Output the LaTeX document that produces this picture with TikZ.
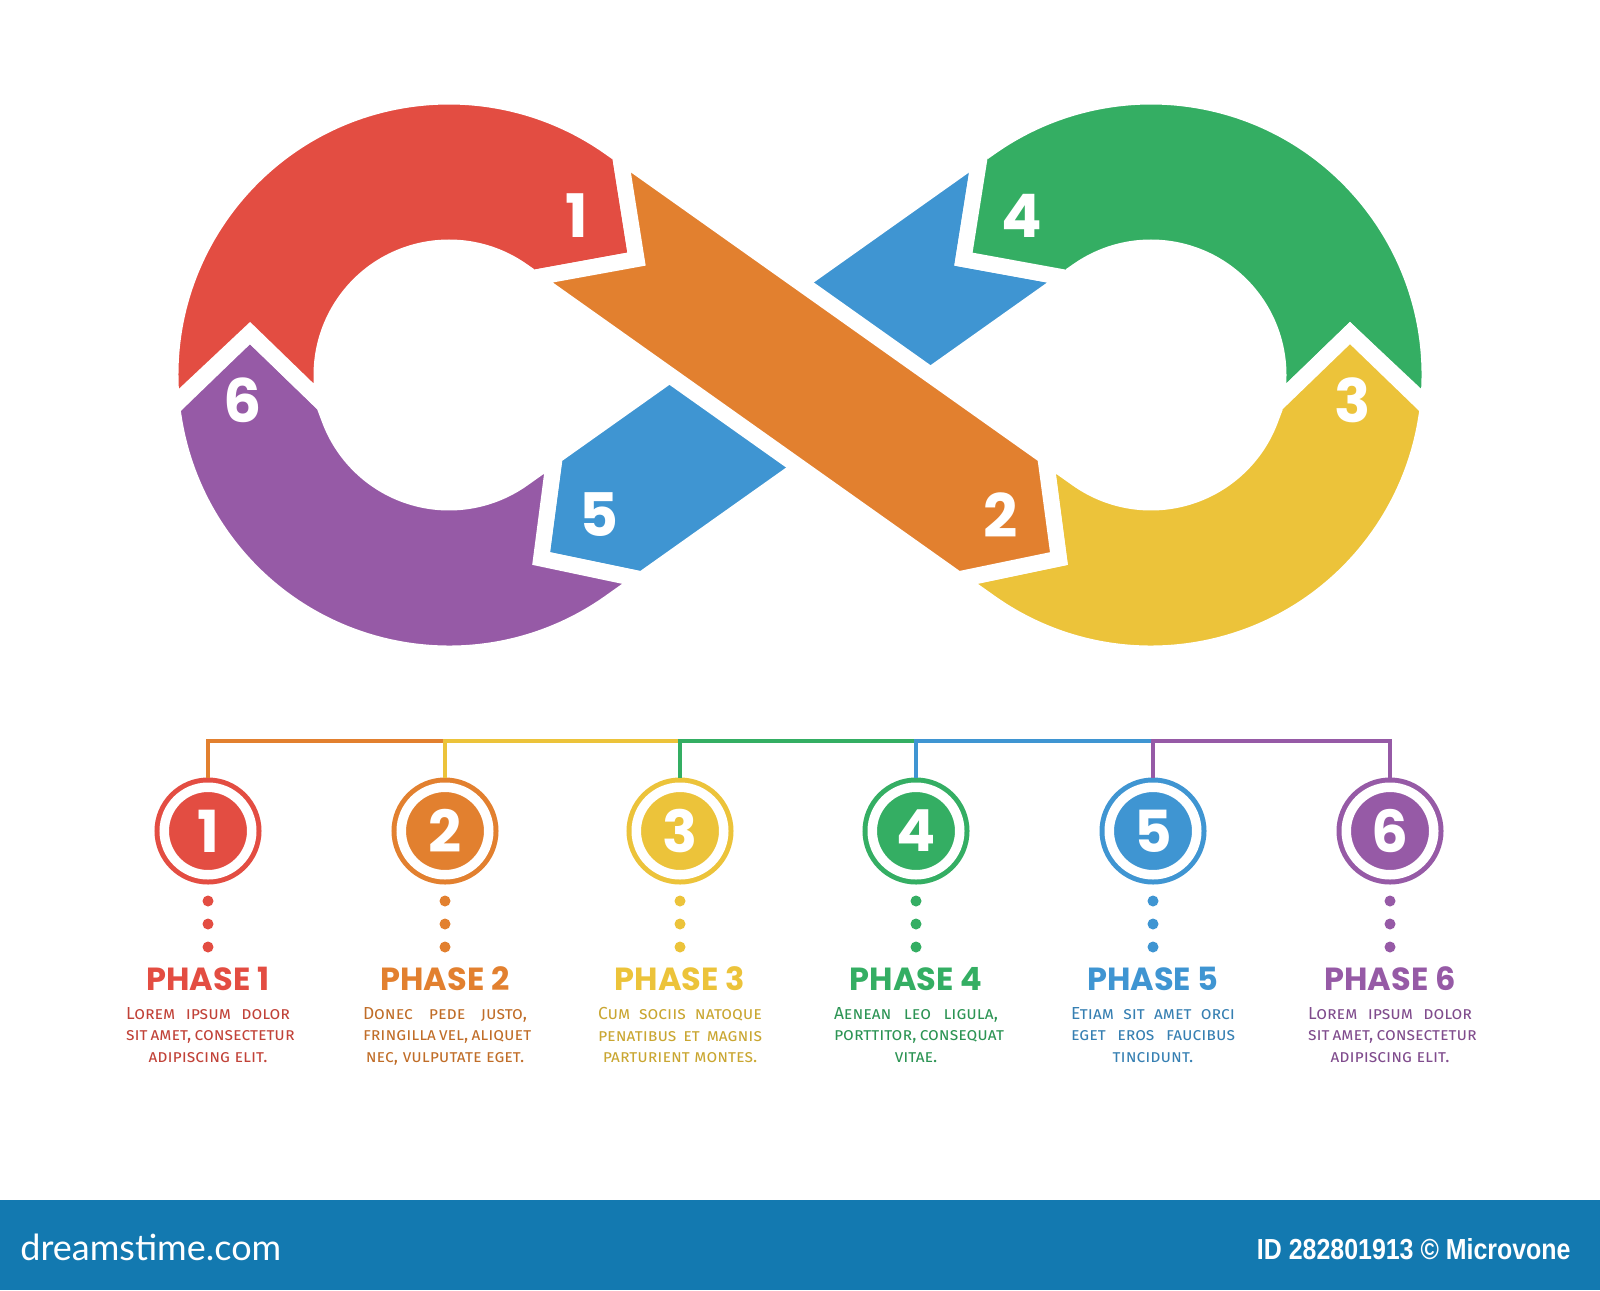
\documentclass[tikz,border=0pt]{standalone}
\usepackage{fontspec}
\setmainfont{Fira Sans}
\newfontfamily\headfont{Poppins}
\newfontfamily\idfont{Liberation Sans}
\newfontfamily\logofont{Lato}
\usetikzlibrary{calc}

\definecolor{ph1}{HTML}{E34D42}
\definecolor{ph2}{HTML}{E2802F}
\definecolor{ph3}{HTML}{ECC33A}
\definecolor{ph4}{HTML}{34AE63}
\definecolor{ph5}{HTML}{3F95D2}
\definecolor{ph6}{HTML}{965AA6}
\definecolor{bar}{HTML}{1379B0}

\begin{document}
\begin{tikzpicture}[x=0.5pt, y=-0.5pt,
    piece/.style={draw=white, line width=8pt},
    num/.style={text=white, font=\headfont\bfseries\fontsize{30}{30}\selectfont},
    ring/.style={circle, draw=#1, fill=#1, double=white, double distance=4.75pt,
        line width=2.5pt, minimum size=43.75pt, inner sep=0pt, outer sep=4.875pt,
        text=white, font=\headfont\bfseries\fontsize{29}{29}\selectfont},
    bus/.style={line width=2pt},
    phase/.style={anchor=base, font=\headfont\bfseries\fontsize{16}{16}\selectfont},
    desc/.style={anchor=north, align=center, inner sep=0pt,
        font=\fontsize{8.7}{10.75}\selectfont\scshape}]

\useasboundingbox (0,0) rectangle (1600,1290);

% loop centres and tangent points
\coordinate (CL) at (449,375);
\coordinate (CR) at (1151,375);
\coordinate (T1) at ($(CL)+(-54.67:203)$);
\coordinate (T2) at ($(CR)+(125.33:203)$);
\coordinate (T3) at ($(CR)+(-125.33:203)$);
\coordinate (T4) at ($(CL)+(54.67:203)$);

% blue ribbon first, it runs under the orange one
\filldraw[piece, fill=ph5]
    ($(T3)+(144.67:12.2)+(54.67:-75.5)$) -- ($(T3)+(144.67:86)$)
    -- ($(T3)+(144.67:12.2)+(54.67:75.5)$)
    -- ($(T4)+(144.67:-51)+(54.67:75.5)$) -- ($(T4)+(144.67:-51)+(54.67:88)$)
    -- ($(T4)+(144.67:31)$)
    -- ($(T4)+(144.67:-51)+(54.67:-88)$) -- ($(T4)+(144.67:-51)+(54.67:-75.5)$)
    -- cycle;

\filldraw[piece, fill=ph6]
    ($(T4)+(144.67:-38.8)+(54.67:75.5)$) -- ($(CL)+(54.67:278.5)$)
    arc[start angle=54.67, end angle=171.1, radius=278.5]
    -- (162,418) -- (250,333) -- (338,418)
    -- ($(CL)+(160.3:127.5)$) arc[start angle=160.3, end angle=54.67, radius=127.5]
    -- ($(T4)+(144.67:-38.8)+(54.67:-75.5)$) -- ($(T4)+(144.67:31)$) -- cycle;

\filldraw[piece, fill=ph1]
    ($(CL)+(173.6:278.5)$) arc[start angle=173.6, end angle=305.33, radius=278.5]
    -- ($(CL)+(305.33:291)$) -- ($(T1)+(35.33:86)$) -- ($(CL)+(305.33:115)$)
    -- ($(CL)+(305.33:127.5)$) arc[start angle=305.33, end angle=165.9, radius=127.5]
    -- (250,333) -- cycle;

\filldraw[piece, fill=ph4]
    ($(CR)+(6.4:278.5)$) arc[start angle=6.4, end angle=-125.33, radius=278.5]
    -- ($(CR)+(-125.33:291)$) -- ($(T3)+(144.67:86)$) -- ($(CR)+(-125.33:115)$)
    -- ($(CR)+(-125.33:127.5)$) arc[start angle=-125.33, end angle=14.1, radius=127.5]
    -- (1350,333) -- cycle;

\filldraw[piece, fill=ph3]
    ($(T2)+(35.33:-38.8)+(125.33:75.5)$) -- ($(CR)+(125.33:278.5)$)
    arc[start angle=125.33, end angle=8.9, radius=278.5]
    -- (1438,418) -- (1350,333) -- (1262,418)
    -- ($(CR)+(19.7:127.5)$) arc[start angle=19.7, end angle=125.33, radius=127.5]
    -- ($(T2)+(35.33:-38.8)+(125.33:-75.5)$) -- ($(T2)+(35.33:31)$) -- cycle;

\filldraw[piece, fill=ph2]
    ($(T1)+(35.33:12.2)+(125.33:-75.5)$) -- ($(T1)+(35.33:86)$)
    -- ($(T1)+(35.33:12.2)+(125.33:75.5)$)
    -- ($(T2)+(35.33:-51)+(125.33:75.5)$) -- ($(T2)+(35.33:-51)+(125.33:88)$)
    -- ($(T2)+(35.33:31)$)
    -- ($(T2)+(35.33:-51)+(125.33:-88)$) -- ($(T2)+(35.33:-51)+(125.33:-75.5)$)
    -- cycle;

\node[num] (a1) at (577,216) {1};
\node[num] (a2) at (1001,515) {2};
\node[num] (a3) at (1353,400) {3};
\node[num] (a4) at (1022,216) {4};
\node[num] (a5) at (599,515) {5};
\node[num] (a6) at (243,400) {6};

\foreach \i/\x/\la/\lb/\lc in {
    1/208/{Lorem ipsum dolor}/{sit amet, consectetur}/{adipiscing elit.},
    2/445/{Donec pede justo,}/{fringilla vel, aliquet}/{nec, vulputate eget.},
    3/680/{Cum sociis natoque}/{penatibus et magnis}/{parturient montes.},
    4/916/{Aenean leo ligula,}/{porttitor, consequat}/{vitae.},
    5/1153/{Etiam sit amet orci}/{eget eros faucibus}/{tincidunt.},
    6/1390/{Lorem ipsum dolor}/{sit amet, consectetur}/{adipiscing elit.}} {
    \coordinate (j\i) at (\x,741);
    \node[ring=ph\i] (c\i) at (\x,831) {\i};
    \foreach \y in {901,924,947}
        \fill[ph\i] (\x,\y) circle[radius=2.75pt];
    \node[phase, text=ph\i] (p\i) at (\x,990) {PHASE \i};
    \node[desc, text=ph\i!85!black] (t\i) at (\x,1007)
        {\makebox[82pt][s]{\la}\\\makebox[82pt][s]{\lb}\\\lc};
}

\foreach \i/\j in {1/2,2/3,3/4,4/5}
    \draw[bus, ph\j] (c\i.north) |- (j\j);
\draw[bus, ph6] (c5.north) |- (j6) -- (c6.north);

\fill[bar] (0,1200) rectangle (1600,1290);
\node[anchor=west, inner sep=0pt, text=white, font=\logofont\fontsize{18}{18}\selectfont]
    (logo) at (20,1247) {dreamstime.com};
\node[anchor=east, inner sep=0pt, text=white, font=\idfont\bfseries\fontsize{14.5}{14.5}\selectfont]
    (credit) at (1571,1249) {\scalebox{0.86}[1]{ID 282801913 © Microvone}};

\end{tikzpicture}
\end{document}
